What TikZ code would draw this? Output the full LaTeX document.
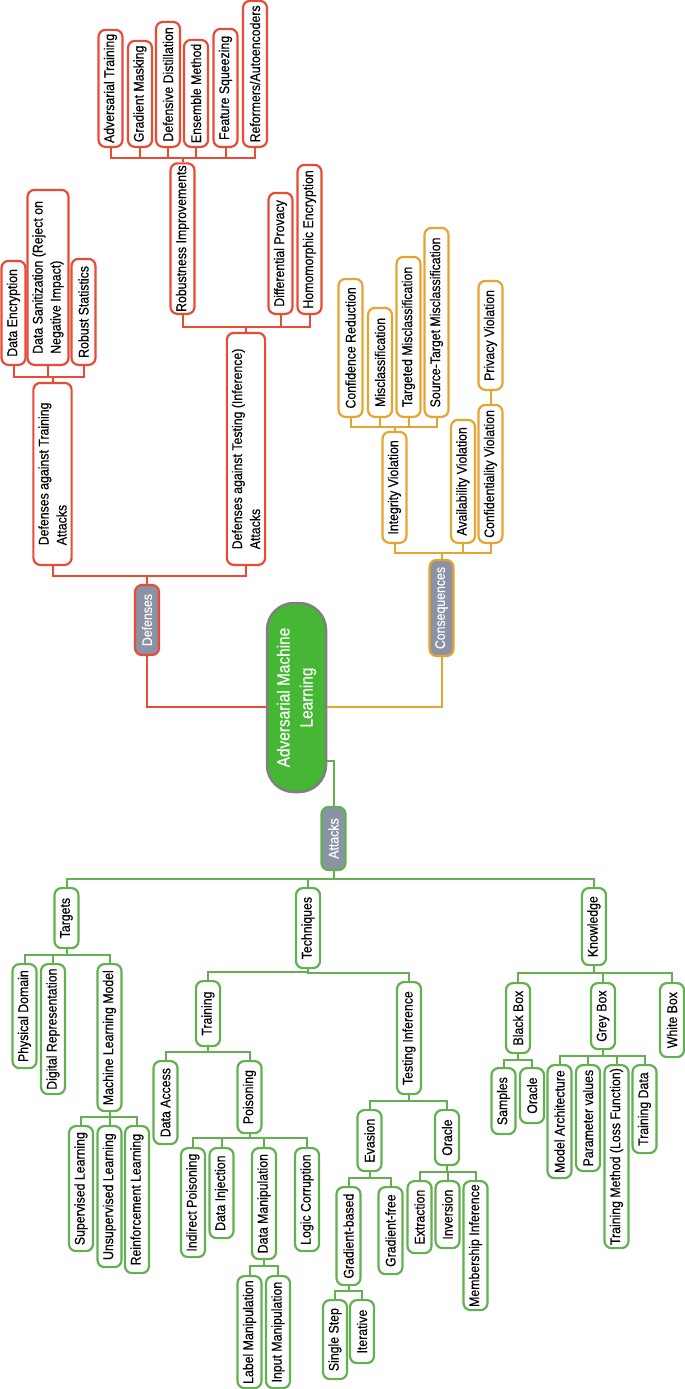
\documentclass[tikz,border=0pt]{standalone}
\usepackage{fontspec}
\setmainfont{Liberation Sans}[FakeStretch=0.88, FakeBold=0.3]
\usepackage{xcolor}
\usetikzlibrary{positioning}

\definecolor{defred}{HTML}{EA4B35}
\definecolor{conyel}{HTML}{E6A531}
\definecolor{atkgrn}{HTML}{62B04F}
\definecolor{catgray}{HTML}{8A93A6}
\definecolor{rootgrn}{HTML}{45B734}
\definecolor{rootrim}{HTML}{808080}

\begin{document}
\begin{tikzpicture}[x=1pt,y=-1pt]
            \tikzset{leaf/.style = {draw, rotate=90, rounded corners=7pt, line width=2.2pt, fill=white,
                minimum width=#1pt, minimum height=24pt, inner xsep=2pt, inner ysep=5pt,
                align=left, font=\fontsize{14}{18}\selectfont}}
            \tikzset{rbox/.style = {leaf=#1, draw=defred}}
            \tikzset{ybox/.style = {leaf=#1, draw=conyel}}
            \tikzset{gbox/.style = {leaf=#1, draw=atkgrn}}
            \tikzset{catbox/.style = {leaf=#1, fill=catgray, text=white}}
            \tikzset{root/.style = {draw=rootrim, rotate=90, rounded corners=27pt, line width=2.5pt,
                fill=rootgrn, text=white, minimum width=189pt, minimum height=59pt,
                align=center, font=\fontsize{17.5}{23}\selectfont}}
            \tikzset{rl/.style = {draw=defred, line width=2pt}}
            \tikzset{yl/.style = {draw=conyel, line width=2pt}}
            \tikzset{gl/.style = {draw=atkgrn, line width=2pt}}

            \useasboundingbox (0,0) rectangle (685,1389);

            \node[root] (main) at (296.5,697.5) {Adversarial Machine\\Learning};

            % defenses
            \node[catbox=70, draw=defred] (def) at (147,620) {Defenses};
            \node[rbox=182, anchor=west] (deftrain) at (52.5,566) {Defenses against Training\\Attacks};
            \node[rbox=232, anchor=west] (deftest) at (246,566) {Defenses against Testing (Inference)\\Attacks};
            \node[rbox=104, anchor=west] (dataenc) at (13.5,366) {Data Encryption};
            \node[rbox=175, anchor=west] (datasan) at (48,366) {Data Sanitization (Reject on\\Negative Impact)};
            \node[rbox=106, anchor=west] (robstat) at (83.5,366) {Robust Statistics};
            \node[rbox=149, anchor=west] (robimp) at (182.5,315) {Robustness Improvements};
            \node[rbox=121, anchor=west] (diffpriv) at (280.5,315) {Differential Provacy};
            \node[rbox=149, anchor=west] (homenc) at (309.5,315) {Homomorphic Encryption};
            \node[rbox=117, anchor=west] (advtrain) at (110.5,148) {Adversarial Training};
            \node[rbox=106, anchor=west] (gradmask) at (140,148) {Gradient Masking};
            \node[rbox=125, anchor=west] (defdist) at (168,148) {Defensive Distillation};
            \node[rbox=107, anchor=west] (ensemble) at (196,148) {Ensemble Method};
            \node[rbox=118, anchor=west] (featsq) at (225.5,148) {Feature Squeezing};
            \node[rbox=146, anchor=west] (reform) at (255,148) {Reformers/Autoencoders};

            \draw[rl] ([yshift=-9.5pt]main.north) -| (def.west);
            \draw[rl] (def.east) |- ([yshift=-10pt]deftrain.west) -- (deftrain.west);
            \draw[rl] (def.east) |- ([yshift=-10pt]deftest.west) -- (deftest.west);
            \draw[rl] (deftrain.east) |- ([yshift=-11pt]dataenc.west) -- (dataenc.west);
            \draw[rl] (deftrain.east) |- ([yshift=-11pt]datasan.west) -- (datasan.west);
            \draw[rl] (deftrain.east) |- ([yshift=-11pt]robstat.west) -- (robstat.west);
            \draw[rl] (deftest.east) |- ([yshift=-12pt]robimp.west) -- (robimp.west);
            \draw[rl] (deftest.east) |- ([yshift=-12pt]diffpriv.west) -- (diffpriv.west);
            \draw[rl] (deftest.east) |- ([yshift=-12pt]homenc.west) -- (homenc.west);
            \draw[rl] (robimp.east) |- ([yshift=-10pt]advtrain.west) -- (advtrain.west);
            \draw[rl] (robimp.east) |- ([yshift=-10pt]gradmask.west) -- (gradmask.west);
            \draw[rl] (robimp.east) |- ([yshift=-10pt]defdist.west) -- (defdist.west);
            \draw[rl] (robimp.east) |- ([yshift=-10pt]ensemble.west) -- (ensemble.west);
            \draw[rl] (robimp.east) |- ([yshift=-10pt]featsq.west) -- (featsq.west);
            \draw[rl] (robimp.east) |- ([yshift=-10pt]reform.west) -- (reform.west);

            % consequences
            \node[catbox=96, draw=conyel] (cons) at (441.5,608) {Consequences};
            \node[ybox=111, anchor=west] (integ) at (394.5,544) {Integrity Violation};
            \node[ybox=123, anchor=west] (avail) at (463,544) {Availability Violation};
            \node[ybox=138, anchor=west] (confid) at (490.5,544) {Confidentiality Violation};
            \node[ybox=109, anchor=west] (privacy) at (490.5,391) {Privacy Violation};
            \node[ybox=138, anchor=west] (confred) at (350.5,418) {Confidence Reduction};
            \node[ybox=109, anchor=west] (miscl) at (380,418) {Misclassification};
            \node[ybox=160, anchor=west] (targmis) at (408.5,418) {Targeted Misclassification};
            \node[ybox=189, anchor=west] (srctarg) at (436.5,418) {Source-Target Misclassification};

            \draw[yl] ([yshift=-9.5pt]main.south) -| (cons.west);
            \draw[yl] (cons.east) |- ([yshift=-9pt]integ.west) -- (integ.west);
            \draw[yl] (cons.east) |- ([yshift=-9pt]avail.west) -- (avail.west);
            \draw[yl] (cons.east) |- ([yshift=-9pt]confid.west) -- (confid.west);
            \draw[yl] (confid.east) -- (privacy.west);
            \draw[yl] (integ.east) |- ([yshift=-9pt]confred.west) -- (confred.west);
            \draw[yl] (integ.east) |- ([yshift=-9pt]miscl.west) -- (miscl.west);
            \draw[yl] (integ.east) |- ([yshift=-9pt]targmis.west) -- (targmis.west);
            \draw[yl] (integ.east) |- ([yshift=-9pt]srctarg.west) -- (srctarg.west);

            % attacks
            \node[catbox=63, draw=atkgrn] (atk) at (333.5,838.5) {Attacks};
            \node[gbox=60, anchor=east] (tgt) at (66.5,887) {Targets};
            \node[gbox=104, anchor=east] (phys) at (24.5,963) {Physical Domain};
            \node[gbox=130, anchor=east] (digi) at (53,963) {Digital Representation};
            \node[gbox=147, anchor=east] (mlm) at (109.5,963) {Machine Learning Model};
            \node[gbox=125, anchor=east] (sup) at (81,1125) {Supervised Learning};
            \node[gbox=141, anchor=east] (unsup) at (109.5,1125) {Unsupervised Learning};
            \node[gbox=147, anchor=east] (reinf) at (137,1125) {Reinforcement Learning};

            \node[gbox=80, anchor=east] (tech) at (308,887) {Techniques};
            \node[gbox=65, anchor=east] (train) at (208,980) {Training};
            \node[gbox=83, anchor=east] (dacc) at (165.5,1060) {Data Access};
            \node[gbox=72, anchor=east] (pois) at (249.5,1060) {Poisoning};
            \node[gbox=109, anchor=east] (indir) at (193,1147) {Indirect Poisoning};
            \node[gbox=90, anchor=east] (dinj) at (221.5,1147) {Data Injection};
            \node[gbox=111, anchor=east] (dman) at (264,1147) {Data Manipulation};
            \node[gbox=103, anchor=east] (logic) at (307,1147) {Logic Corruption};
            \node[gbox=112, anchor=east] (lman) at (249.5,1275) {Label Manipulation};
            \node[gbox=112, anchor=east] (iman) at (278,1275) {Input Manipulation};
            \node[gbox=112, anchor=east] (testinf) at (409,981) {Testing Inference};
            \node[gbox=61, anchor=east] (evas) at (369.5,1109) {Evasion};
            \node[gbox=55, anchor=east] (torac) at (447,1109) {Oracle};
            \node[gbox=98, anchor=east] (gradb) at (348.5,1186) {Gradient-based};
            \node[gbox=87, anchor=east] (gradf) at (390.5,1186) {Gradient-free};
            \node[gbox=79, anchor=east] (single) at (335,1299) {Single Step};
            \node[gbox=63, anchor=east] (iter) at (362,1299) {Iterative};
            \node[gbox=72, anchor=east] (extr) at (419.5,1180) {Extraction};
            \node[gbox=67, anchor=east] (inver) at (447.5,1180) {Inversion};
            \node[gbox=129, anchor=east] (memb) at (475.5,1180) {Membership Inference};

            \node[gbox=77, anchor=east] (know) at (594,887) {Knowledge};
            \node[gbox=70, anchor=east] (black) at (518,982) {Black Box};
            \node[gbox=66, anchor=east] (grey) at (603,982) {Grey Box};
            \node[gbox=74, anchor=east] (white) at (672,982) {White Box};
            \node[gbox=66, anchor=east] (samp) at (503.5,1067) {Samples};
            \node[gbox=55, anchor=east] (borac) at (532,1067) {Oracle};
            \node[gbox=113, anchor=east] (march) at (559.5,1064) {Model Architecture};
            \node[gbox=106, anchor=east] (param) at (588,1064) {Parameter values};
            \node[gbox=183, anchor=east] (tmeth) at (616.5,1064) {Training Method (Loss Function)};
            \node[gbox=88, anchor=east] (tdata) at (644.5,1064) {Training Data};

            \draw[gl] ([yshift=-63.5pt]main.south) -| (atk.east);
            \draw[gl] (atk.west) |- ([yshift=8pt]tgt.east) -- (tgt.east);
            \draw[gl] (atk.west) |- ([yshift=8pt]tech.east) -- (tech.east);
            \draw[gl] (atk.west) |- ([yshift=8pt]know.east) -- (know.east);
            \draw[gl] (tgt.west) |- ([yshift=8pt]phys.east) -- (phys.east);
            \draw[gl] (tgt.west) |- ([yshift=8pt]digi.east) -- (digi.east);
            \draw[gl] (tgt.west) |- ([yshift=8pt]mlm.east) -- (mlm.east);
            \draw[gl] (mlm.west) |- ([yshift=8pt]sup.east) -- (sup.east);
            \draw[gl] (mlm.west) |- ([yshift=8pt]unsup.east) -- (unsup.east);
            \draw[gl] (mlm.west) |- ([yshift=8pt]reinf.east) -- (reinf.east);
            \draw[gl] (tech.west) |- ([yshift=8pt]train.east) -- (train.east);
            \draw[gl] (tech.west) |- ([yshift=8pt]testinf.east) -- (testinf.east);
            \draw[gl] (train.west) |- ([yshift=8pt]dacc.east) -- (dacc.east);
            \draw[gl] (train.west) |- ([yshift=8pt]pois.east) -- (pois.east);
            \draw[gl] (pois.west) |- ([yshift=9pt]indir.east) -- (indir.east);
            \draw[gl] (pois.west) |- ([yshift=9pt]dinj.east) -- (dinj.east);
            \draw[gl] (pois.west) |- ([yshift=9pt]dman.east) -- (dman.east);
            \draw[gl] (pois.west) |- ([yshift=9pt]logic.east) -- (logic.east);
            \draw[gl] (dman.west) |- ([yshift=9pt]lman.east) -- (lman.east);
            \draw[gl] (dman.west) |- ([yshift=9pt]iman.east) -- (iman.east);
            \draw[gl] (testinf.west) |- ([yshift=8pt]evas.east) -- (evas.east);
            \draw[gl] (testinf.west) |- ([yshift=8pt]torac.east) -- (torac.east);
            \draw[gl] (evas.west) |- ([yshift=8pt]gradb.east) -- (gradb.east);
            \draw[gl] (evas.west) |- ([yshift=8pt]gradf.east) -- (gradf.east);
            \draw[gl] (gradb.west) |- ([yshift=8pt]single.east) -- (single.east);
            \draw[gl] (gradb.west) |- ([yshift=8pt]iter.east) -- (iter.east);
            \draw[gl] (torac.west) |- ([yshift=8pt]extr.east) -- (extr.east);
            \draw[gl] (torac.west) |- ([yshift=8pt]inver.east) -- (inver.east);
            \draw[gl] (torac.west) |- ([yshift=8pt]memb.east) -- (memb.east);
            \draw[gl] (know.west) |- ([yshift=9pt]black.east) -- (black.east);
            \draw[gl] (know.west) |- ([yshift=9pt]grey.east) -- (grey.east);
            \draw[gl] (know.west) |- ([yshift=9pt]white.east) -- (white.east);
            \draw[gl] (black.west) |- ([yshift=7pt]samp.east) -- (samp.east);
            \draw[gl] (black.west) |- ([yshift=7pt]borac.east) -- (borac.east);
            \draw[gl] (grey.west) |- ([yshift=8pt]march.east) -- (march.east);
            \draw[gl] (grey.west) |- ([yshift=8pt]param.east) -- (param.east);
            \draw[gl] (grey.west) |- ([yshift=8pt]tmeth.east) -- (tmeth.east);
            \draw[gl] (grey.west) |- ([yshift=8pt]tdata.east) -- (tdata.east);

        \end{tikzpicture}
\end{document}
